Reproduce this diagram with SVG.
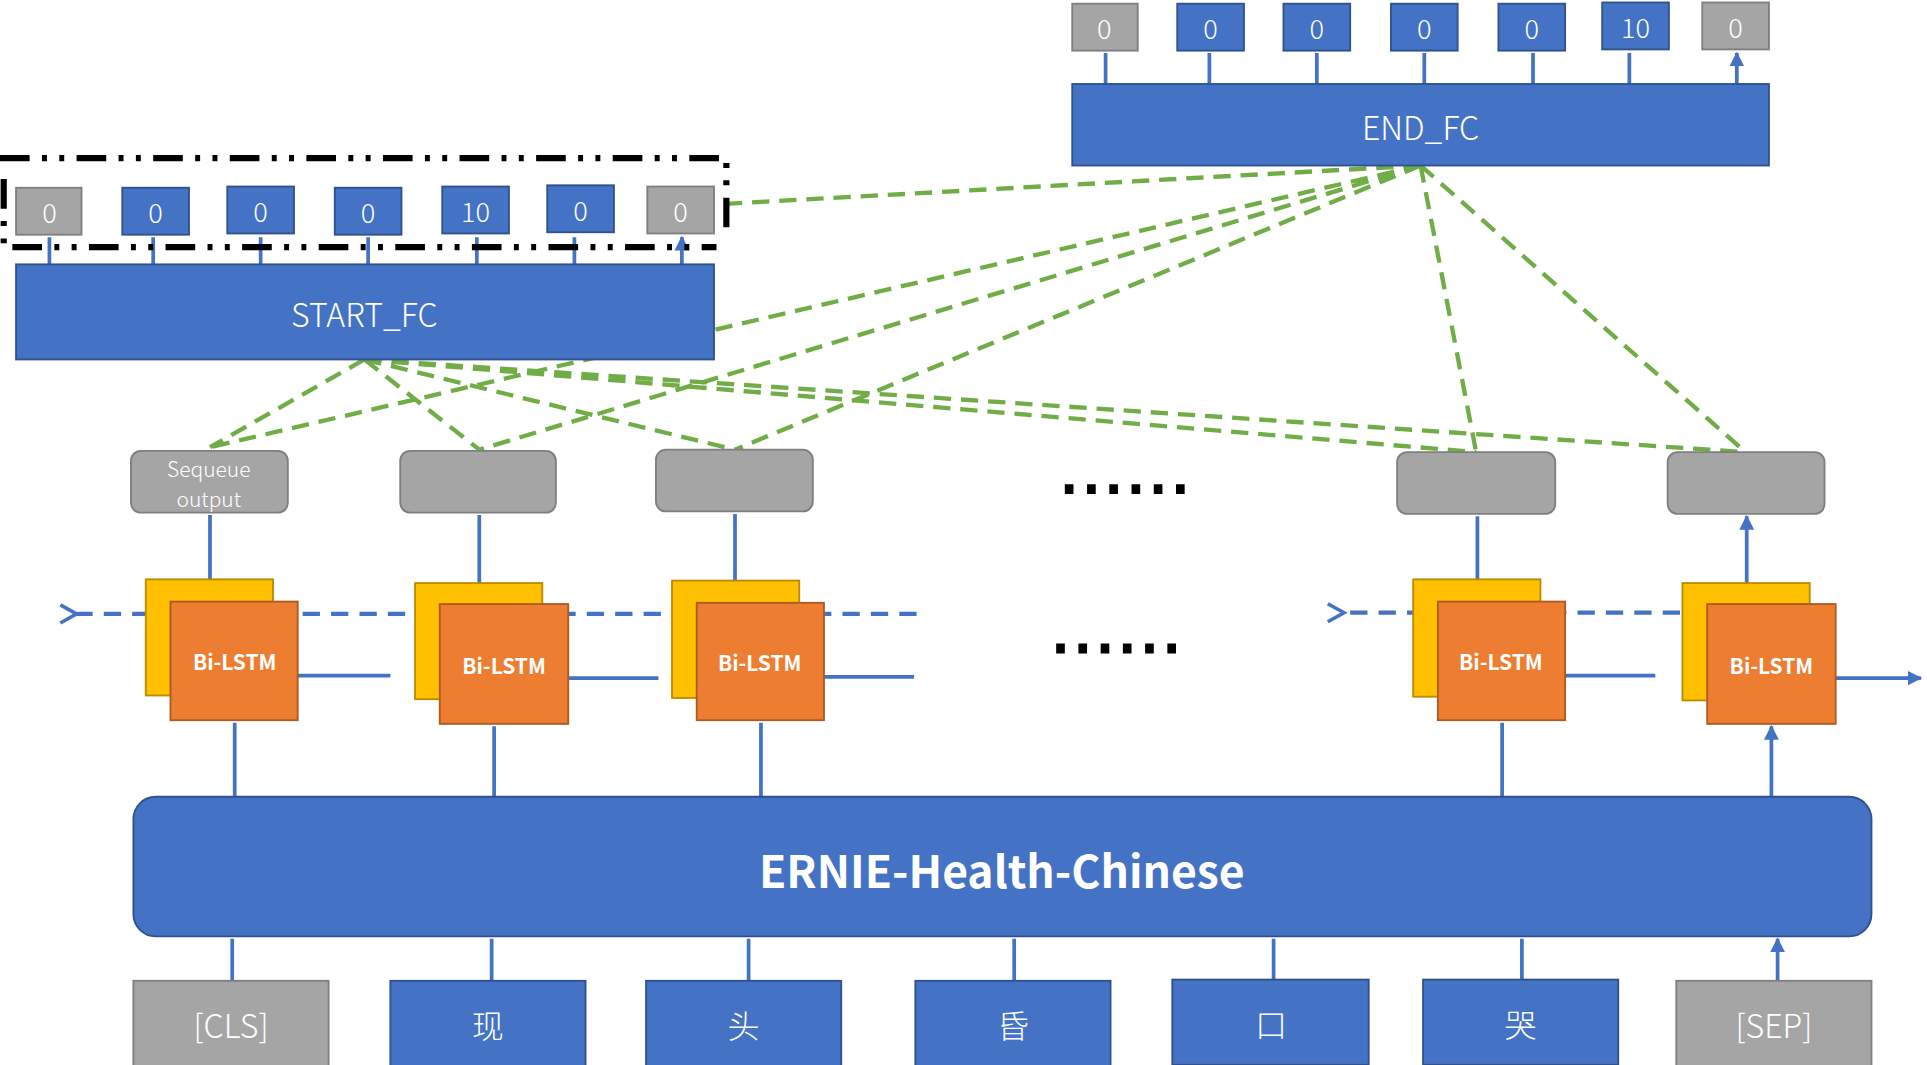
<svg xmlns="http://www.w3.org/2000/svg" width="1927" height="1065" viewBox="0 0 1927 1065">
<defs>
<style>
text{font-family:"Noto Sans CJK SC","Noto Sans",sans-serif;fill:#fff;text-anchor:middle;dominant-baseline:central}
.b{fill:#4472C4;stroke:#2F528F;stroke-width:1.5}
.g{fill:#A5A5A5;stroke:#7F7F7F;stroke-width:1.5}
.y{fill:#FFC000;stroke:#BC8C00;stroke-width:1.5}
.o{fill:#ED7D31;stroke:#AE5A21;stroke-width:1.5}
.t{font-weight:300;font-size:22px}
.l{font-weight:700;font-size:17px}
.a{stroke:#4472C4;stroke-width:3;fill:none}
.gd{stroke:#70AD47;stroke-width:3.5;stroke-dasharray:14,8;fill:none}
.bd{stroke:#4472C4;stroke-width:3.5;stroke-dasharray:14,9;fill:none}
</style>
<marker id="ah" viewBox="0 0 10 10" refX="9" refY="5" markerWidth="4" markerHeight="4" orient="auto"><path d="M0,0L10,5L0,10z" fill="#4472C4"/></marker>
<marker id="oh" viewBox="0 0 12 12" refX="2" refY="6" markerWidth="5" markerHeight="5" orient="auto"><path d="M11,1L2,6L11,11" fill="none" stroke="#4472C4" stroke-width="2"/></marker>
</defs>
<g transform="scale(1.2353)">
<g id="connectors">
<g class="gd">
<path d="M1150,134L588,165M1150,134L170,362M1150,134L388,364M1150,134L595,364M1150,134L1195,366M1150,134L1413,366"/>
<path d="M295,291L170,362M295,291L388,364M295,291L595,364M295,291L1195,366M295,291L1413,366"/>
</g>
<path d="M742,497H62" class="bd" marker-end="url(#oh)"/>
<path d="M1360,496H1088" class="bd" marker-end="url(#oh)"/>
<g class="a" marker-end="url(#ah)">
<path d="M895,68V43M979,68V43M1066,68V43M1153,68V43M1241,68V43M1319,68V43M1406,68V43"/>
<path d="M40,214V192M124,214V192M211,214V192M298,214V192M386,214V192M465,214V192M552,214V192"/>
<path d="M170,469V417M388,472V417M595,470V416M1196,469V418M1414,472V418"/>
<path d="M241,547H316M460,549H533M667,548H740M1267,547H1340M1486,549H1555"/>
<path d="M190,645V585M400,645V588M616,645V585M1216,645V585M1434,645V588"/>
<path d="M188,794V760M398,794V760M606,794V760M821,794V760M1031,794V760M1232,794V760M1439,794V760"/>
</g>
</g>
<path d="M3,145V200H580M0,128H588V190" fill="none" stroke="#000" stroke-width="5" stroke-dasharray="24,10,4,10,4,10"/>
<g id="end_outputs">
<rect class="g" x="868" y="3" width="53" height="38"/><text class="t" x="894" y="22">0</text>
<rect class="b" x="953" y="3" width="54" height="38"/><text class="t" x="980" y="22">0</text>
<rect class="b" x="1039" y="3" width="54" height="38"/><text class="t" x="1066" y="22">0</text>
<rect class="b" x="1126" y="3" width="54" height="38"/><text class="t" x="1153" y="22">0</text>
<rect class="b" x="1213" y="3" width="54" height="38"/><text class="t" x="1240" y="22">0</text>
<rect class="b" x="1297" y="2" width="54" height="38"/><text class="t" x="1324" y="21">10</text>
<rect class="g" x="1378" y="2" width="54" height="38"/><text class="t" x="1405" y="21">0</text>
</g>
<g id="end_fc"><rect class="b" x="868" y="68" width="564" height="66"/><text x="1150" y="102" style="font-size:26px;font-weight:300">END_FC</text></g>
<g id="start_outputs">
<rect class="g" x="13" y="152" width="53" height="38"/><text class="t" x="40" y="171">0</text>
<rect class="b" x="99" y="152" width="54" height="38"/><text class="t" x="126" y="171">0</text>
<rect class="b" x="184" y="151" width="54" height="38"/><text class="t" x="211" y="170">0</text>
<rect class="b" x="271" y="152" width="54" height="38"/><text class="t" x="298" y="171">0</text>
<rect class="b" x="358" y="151" width="54" height="38"/><text class="t" x="385" y="170">10</text>
<rect class="b" x="443" y="150" width="54" height="38"/><text class="t" x="470" y="169">0</text>
<rect class="g" x="524" y="151" width="54" height="38"/><text class="t" x="551" y="170">0</text>
</g>
<g id="start_fc"><rect class="b" x="13" y="214" width="565" height="77"/><text x="295" y="253" style="font-size:26px;font-weight:300">START_FC</text></g>
<g id="seq1"><rect class="g" x="106" y="365" width="127" height="50" rx="8"/><text x="169" y="379" style="font-size:17px;font-weight:300">Sequeue</text><text x="169" y="403" style="font-size:17px;font-weight:300">output</text></g>
<g id="seq2"><rect class="g" x="324" y="365" width="126" height="50" rx="8"/></g>
<g id="seq3"><rect class="g" x="531" y="364" width="127" height="50" rx="8"/></g>
<g id="seq4"><rect class="g" x="1131" y="366" width="128" height="50" rx="8"/></g>
<g id="seq5"><rect class="g" x="1350" y="366" width="127" height="50" rx="8"/></g>
<g id="lstm1"><rect class="y" x="118" y="469" width="103" height="94"/><rect class="o" x="138" y="487" width="103" height="96"/><text class="l" x="190" y="535">Bi-LSTM</text></g>
<g id="lstm2"><rect class="y" x="336" y="472" width="103" height="94"/><rect class="o" x="356" y="489" width="104" height="97"/><text class="l" x="408" y="538">Bi-LSTM</text></g>
<g id="lstm3"><rect class="y" x="544" y="470" width="103" height="95"/><rect class="o" x="564" y="488" width="103" height="95"/><text class="l" x="615" y="536">Bi-LSTM</text></g>
<g id="lstm4"><rect class="y" x="1144" y="469" width="103" height="95"/><rect class="o" x="1164" y="487" width="103" height="96"/><text class="l" x="1215" y="535">Bi-LSTM</text></g>
<g id="lstm5"><rect class="y" x="1362" y="472" width="103" height="95"/><rect class="o" x="1382" y="489" width="104" height="97"/><text class="l" x="1434" y="538">Bi-LSTM</text></g>
<path d="M862,396H966M855,525H959" stroke="#000" stroke-width="8" stroke-dasharray="7,11"/>
<g id="ernie"><rect class="b" x="108" y="645" width="1407" height="113" rx="18"/><text x="811" y="703" style="font-size:36px;font-weight:700">ERNIE-Health-Chinese</text></g>
<g id="inputs">
<g id="in_cls"><rect class="g" x="108" y="794" width="158" height="70"/><text class="t" x="187" y="829" style="font-size:26px">[CLS]</text></g>
<g id="in1"><rect class="b" x="316" y="794" width="158" height="70"/><text class="t" x="395" y="829" style="font-size:26px">现</text></g>
<g id="in2"><rect class="b" x="523" y="794" width="158" height="70"/><text class="t" x="602" y="829" style="font-size:26px">头</text></g>
<g id="in3"><rect class="b" x="741" y="794" width="158" height="70"/><text class="t" x="820" y="829" style="font-size:26px">昏</text></g>
<g id="in4"><rect class="b" x="949" y="793" width="159" height="69"/><text class="t" x="1029" y="828" style="font-size:26px">口</text></g>
<g id="in5"><rect class="b" x="1152" y="793" width="158" height="69"/><text class="t" x="1231" y="828" style="font-size:26px">哭</text></g>
<g id="in_sep"><rect class="g" x="1357" y="794" width="158" height="70"/><text class="t" x="1436" y="829" style="font-size:26px">[SEP]</text></g>
</g>
</g>
</svg>
